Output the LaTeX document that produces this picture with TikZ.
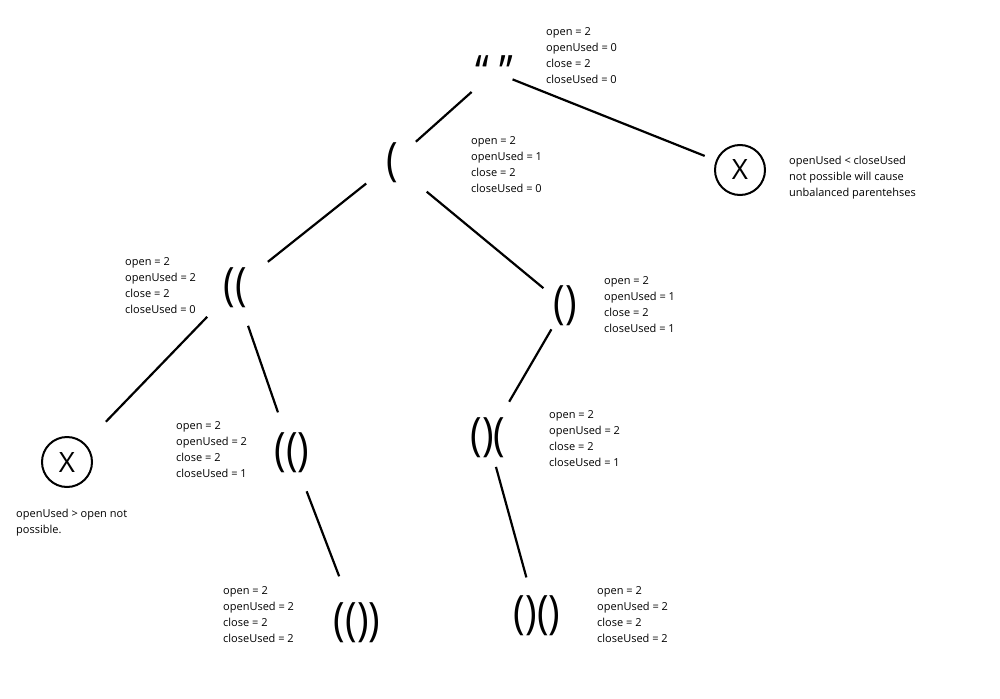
\documentclass[tikz,border=0pt]{standalone}
\usepackage{fontspec}
\setmainfont{Open Sans}
\begin{document}
\begin{tikzpicture}[x=1pt,y=-1pt,
  lbl/.style={anchor=north west,align=left,font=\fontsize{11}{16}\selectfont,inner sep=0pt},
  par/.style={font=\fontsize{46}{48}\selectfont,xscale=0.85},
  xn/.style={circle,draw,line width=2pt,minimum size=50pt,inner sep=0pt,font=\fontsize{28}{30}\selectfont},
  edge/.style={line width=2.2pt}]
\useasboundingbox (0,0) rectangle (1000,698);
\node[par] (r) at (494,72) {“ ”};
\node[par] (a) at (392,163) {(};
\node[xn] (x1) at (740,170) {X};
\node[par] (b) at (235,288) {((};
\node[par] (c) at (565,306) {()};
\node[xn] (x2) at (67,462) {X};
\node[par] (d) at (292,453) {(()};
\node[par] (e) at (488,438) {()(};
\node[par] (f) at (357,623) {(())};
\node[par] (g) at (537,616) {()()};
\node[lbl] (lr) at (546,27) {open = 2\\openUsed = 0\\close = 2\\closeUsed = 0};
\node[lbl] (la) at (471,136) {open = 2\\openUsed = 1\\close = 2\\closeUsed = 0};
\node[lbl] (lx1) at (789,156) {openUsed < closeUsed\\not possible will cause\\unbalanced parentehses};
\node[lbl] (lb) at (125,257) {open = 2\\openUsed = 2\\close = 2\\closeUsed = 0};
\node[lbl] (lc) at (604,276) {open = 2\\openUsed = 1\\close = 2\\closeUsed = 1};
\node[lbl] (lx2) at (16,509) {openUsed > open not\\possible.};
\node[lbl] (ld) at (176,421) {open = 2\\openUsed = 2\\close = 2\\closeUsed = 1};
\node[lbl] (le) at (549,410) {open = 2\\openUsed = 2\\close = 2\\closeUsed = 1};
\node[lbl] (lf) at (223,586) {open = 2\\openUsed = 2\\close = 2\\closeUsed = 2};
\node[lbl] (lg) at (597,586) {open = 2\\openUsed = 2\\close = 2\\closeUsed = 2};
\draw[edge,shorten <=30pt,shorten >=32pt] (r.center) -- (a.center);
\draw[edge,shorten <=20pt,shorten >=38pt] (r.center) -- (x1.center);
\draw[edge,shorten <=33pt,shorten >=42pt] (a.center) -- (b.center);
\draw[edge,shorten <=45pt,shorten >=28pt] (a.center) -- (c.center);
\draw[edge,shorten <=40pt,shorten >=56pt] (b.center) -- (x2.center);
\draw[edge,shorten <=40pt,shorten >=43pt] (b.center) -- (d.center);
\draw[edge,shorten <=27pt,shorten >=42pt] (c.center) -- (e.center);
\draw[edge,shorten <=41pt,shorten >=50pt] (d.center) -- (f.center);
\draw[edge,shorten <=30pt,shorten >=40pt] (e.center) -- (g.center);
\end{tikzpicture}
\end{document}
